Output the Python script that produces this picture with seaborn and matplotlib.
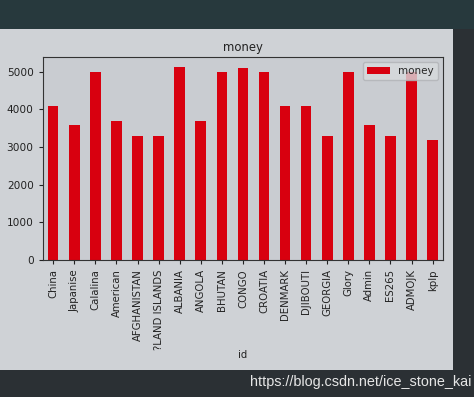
import matplotlib
matplotlib.use("Agg")
import matplotlib.pyplot as plt
import pandas as pd
import seaborn as sns
from matplotlib.patches import Rectangle

# values
ids = ["China", "Japanise", "Calalina", "American", "AFGHANISTAN", "?LAND ISLANDS",
       "ALBANIA", "ANGOLA", "BHUTAN", "CONGO", "CROATIA", "DENMARK", "DJIBOUTI",
       "GEORGIA", "Glory", "Admin", "ES265", "ADMOJK", "kplp"]
money = [4100, 3600, 5000, 3700, 3300, 3300, 5120, 3700, 5000, 5100, 5000,
         4100, 4100, 3300, 5000, 3600, 3300, 5000, 3200]

df = pd.DataFrame({"id": ids, "money": money})

sns.set_style("ticks")
plt.rcParams["font.family"] = ["DejaVu Sans"]

fig = plt.figure(figsize=(4.74, 3.97), dpi=100, facecolor="#2b3034")
# light "window" behind the plot (screenshot area)
fig.patches.append(Rectangle((0, 0.068), 0.956, 0.859, transform=fig.transFigure,
                             facecolor="#cfd2d6", edgecolor="none", zorder=-10))
fig.patches.append(Rectangle((0, 0.927), 1, 0.073, transform=fig.transFigure,
                             facecolor="#27393d", edgecolor="none", zorder=-10))

ax = fig.add_axes([0.090, 0.345, 0.845, 0.512])
ax.set_facecolor("#c9ccd1")

sns.barplot(data=df, x="id", y="money", color="#d8000f", saturation=1,
            width=0.5, label="money", edgecolor="none", linewidth=0, ax=ax)

ax.set_xlim(-0.5, len(ids) - 0.5)
ax.set_ylim(0, 5400)
ax.set_yticks([0, 1000, 2000, 3000, 4000, 5000])
ax.set_title("money", fontsize=8.4, color="#222222", pad=4)
ax.set_xlabel("id", fontsize=7.3, color="#222222", labelpad=0)
ax.set_ylabel("")
ax.tick_params(axis="x", labelrotation=90, labelsize=7.3, length=3, colors="#222222")
ax.tick_params(axis="y", labelsize=7.6, length=3, colors="#222222")
for s in ax.spines.values():
    s.set_color("#333333")
    s.set_linewidth(0.8)

leg = ax.legend(loc="upper right", fontsize=7.5, frameon=True, handlelength=2.2)
leg.get_frame().set_facecolor("#d8dadd")
leg.get_frame().set_edgecolor("#b0b2b6")
leg.get_frame().set_alpha(0.8)

fig.text(0.995, 0.038, "https://blog.csdn.net/ice_stone_kai", ha="right", va="center",
         fontsize=10.4, color="#e6e6e6", family="Liberation Sans")

fig.savefig("out.png", dpi=100, facecolor=fig.get_facecolor())
